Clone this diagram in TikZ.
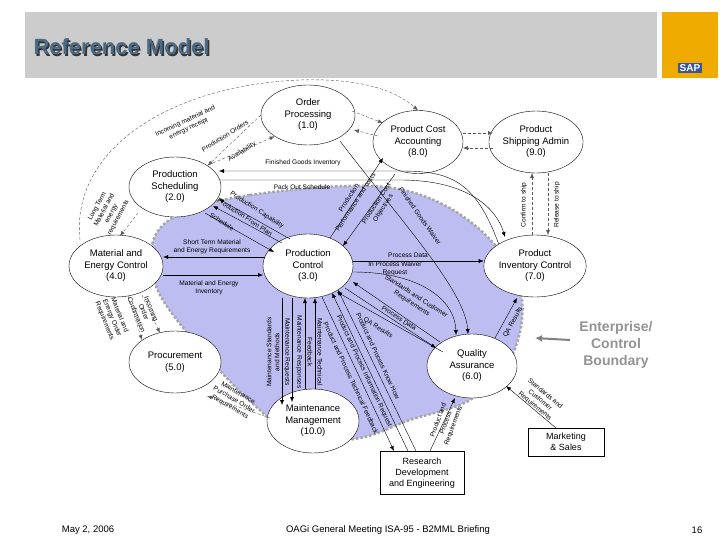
\documentclass[tikz,border=0pt]{standalone}
\usepackage{fontspec}
\setmainfont{Liberation Sans}
\usetikzlibrary{shapes.geometric,arrows.meta}
\definecolor{bnd}{HTML}{BDBDF2}
\definecolor{hdr}{HTML}{CCCCCC}
\definecolor{sapo}{HTML}{F0AB00}
\definecolor{ttl}{HTML}{4A6A85}
\begin{document}
\begin{tikzpicture}[x=1pt,y=-1pt,
  ell/.style={ellipse,draw,fill=white,inner sep=0,align=center,font=\fontsize{9.5}{11.5}\selectfont},
  box/.style={rectangle,draw,fill=white,inner sep=1pt,align=center,font=\fontsize{9}{11}\selectfont},
  lab/.style={font=\fontsize{6.6}{8}\selectfont,align=center,inner sep=0},
  arr/.style={-{Latex[length=5pt,width=4pt]},thin},
  darr/.style={-{Latex[length=5pt,width=4pt]},thin,densely dashed,gray!70!black}]
\useasboundingbox (0,0) rectangle (728,546);
% header
\fill[hdr] (25,12) rectangle (657,78);
\fill[sapo] (662,12) rectangle (718,78);
\fill[white] (662,78) rectangle (718,80);
\node[font=\fontsize{10}{10}\bfseries\selectfont,text=white,fill=ttl!80!blue,inner sep=1.5pt] (sap) at (690,68) {SAP};
\node[anchor=west,font=\fontsize{22}{24}\bfseries\selectfont,text=black!80] (tts) at (31.5,48.5) {Reference Model};
\node[anchor=west,font=\fontsize{22}{24}\bfseries\selectfont,text=ttl] (tt) at (30,47) {Reference Model};
% boundary
\draw[fill=bnd,draw=gray!70,line width=2.5pt,dash pattern=on 2.5pt off 2pt] plot[smooth cycle,tension=0.6] coordinates{
 (178,215) (250,195) (370,186) (440,203) (495,245) (522,300) (510,360) (470,400) (410,420) (360,438) (300,440) (262,412) (215,365) (160,295) (152,245)};
% nodes
\node[ell,minimum width=94,minimum height=60] (op) at (308,115) {Order\\Processing\\(1.0)};
\node[ell,minimum width=90,minimum height=63] (pca) at (418,142) {Product Cost\\Accounting\\(8.0)};
\node[ell,minimum width=86,minimum height=62] (psa) at (536,142) {Product\\Shipping Admin\\(9.0)};
\node[ell,minimum width=92,minimum height=60] (ps) at (175,187) {Production\\Scheduling\\(2.0)};
\node[ell,minimum width=94,minimum height=62] (mec) at (116,266) {Material and\\Energy Control\\(4.0)};
\node[ell,minimum width=90,minimum height=64] (pc) at (308,266) {Production\\Control\\(3.0)};
\node[ell,minimum width=92,minimum height=62] (pic) at (535,266) {Product\\Inventory Control\\(7.0)};
\node[ell,minimum width=92,minimum height=62] (pr) at (175,362) {Procurement\\(5.0)};
\node[ell,minimum width=90,minimum height=64] (qa) at (472,366) {Quality\\Assurance\\(6.0)};
\node[ell,minimum width=92,minimum height=64] (mm) at (313,421) {Maintenance\\Management\\(10.0)};
\node[box,minimum width=84,minimum height=43] (rd) at (422,473) {Research\\Development\\and Engineering};
\node[box,minimum width=76,minimum height=28] (ms) at (566,442) {Marketing\\\& Sales};
% dashed connectors
\coordinate (ia) at (80,240);
\draw[darr] (ia) .. controls (70,150) and (170,85) .. (300,80) .. controls (360,78) and (395,90) .. (pca.north);
\draw[darr] (op.west) -- (ps.north east);
\coordinate (av) at (213,163);
\draw[darr] (av) -- (op.south west);
\draw[darr] (352,111) -- (383,123);
\draw[darr] (378,136) -- (354,130);
\draw[darr] (463,133) -- (493,133);
\draw[darr] (493,148) -- (463,148);
\draw[darr] (532,235) -- (532,173);
\draw[darr] (548,173) -- (548,235);
\draw[darr] (138,213) -- (120,236);
\draw[darr] (128,296) -- (142,340);
\draw[darr] (142,295) -- (160,333);
\draw[darr] (270,418) -- (207,396);
% solid connectors
\draw[arr] (pic.north west) .. controls (475,180) and (450,171) .. (400,171) -- (219,171);
\draw[arr] (220,180) -- (400,180) .. controls (470,180) and (497,210) .. (505,237);
\draw[arr] (290,239) -- (219,199);
\draw[arr] (282,243) -- (213,206);
\draw[arr] (205,213) -- (274,252);
\draw[arr] (265,257) -- (mec.east |- 0,257);
\draw[arr] (mec.east |- 0,275) -- (263,275);
\draw[arr] (330,238) -- (383,158);
\draw[arr] (395,174) -- (343,246);
\draw[arr] (340,141) .. controls (400,220) and (465,290) .. (468,334);
\draw[arr] (353,261) -- (pic.west |- 0,261);
\draw[arr] (353,272) .. controls (420,272) and (455,300) .. (456,335);
\draw[arr] (440,342) -- (353,282);
\draw[arr] (345,288) -- (436,348);
\draw[arr] (443,352) -- (337,292);
\draw[arr] (495,338) -- (517,298);
\draw[arr] (282,298) -- (282,405);
\draw[arr] (292,298) -- (292,402);
\draw[arr] (305,389) -- (305,298);
\draw[arr] (315,389) -- (315,298);
\draw[arr] (322,297) -- (394,451);
\draw[arr] (408,451) -- (332,293);
\draw[arr] (416,451) -- (338,290);
\draw[arr] (430,451) -- (455,398);
\draw[arr] (556,428) -- (506,386);
% boundary label
\draw[-{Latex[length=7pt,width=7pt]},gray,line width=2pt] (570,340) -- (535,338);
\node[font=\fontsize{14}{17}\bfseries\selectfont,text=gray!85,align=center] (eb) at (616,345) {Enterprise/\\Control\\Boundary};
% labels
\node[lab,rotate=25] (l1) at (187,125) {Incoming material and\\energy receipt};
\node[lab,rotate=32] (l2) at (225,136) {Production Orders};
\node[lab,rotate=32] (l3) at (242,152) {Availability};
\node[lab] (l4) at (303,163) {Finished Goods Inventory};
\node[lab] (l5) at (302,187) {Pack Out Schedule};
\node[lab,rotate=-33] (l6) at (257,210) {Production Capability};
\node[lab,rotate=-33] (l7) at (245,217) {Production From Plan};
\node[lab,rotate=-33] (l8) at (222,222) {Schedule};
\node[lab] (l9) at (212,247) {Short Term Material\\and Energy Requirements};
\node[lab] (l10) at (209,288) {Material and Energy\\Inventory};
\node[lab,rotate=57] (l11) at (352,200) {Production\\Performance and costs};
\node[lab,rotate=57] (l12) at (380,206) {Production Cost\\Objectives};
\node[lab,rotate=-55] (l13) at (420,216) {Finished Goods Waiver};
\node[lab] (l14) at (408,255) {Process Data};
\node[lab] (l15) at (395,269) {In Process Waiver\\Request};
\node[lab,rotate=-33] (l16) at (414,300) {Standards and Customer\\Requirements};
\node[lab,rotate=-33] (l17) at (399,318) {Process Data};
\node[lab,rotate=-33] (l18) at (378,328) {QA Results};
\node[lab,rotate=62] (l19) at (513,322) {QA Results};
\node[lab,rotate=90] (l20) at (524,205) {Confirm to ship};
\node[lab,rotate=90] (l21) at (557,205) {Release to ship};
\node[lab,rotate=62] (l22) at (108,212) {Long Term\\Material and\\energy\\requirements};
\node[lab,rotate=-68] (l23) at (112,318) {Material and\\Energy Order\\Requirements};
\node[lab,rotate=-68] (l24) at (144,312) {Incoming\\Order\\Confirmation};
\node[lab,rotate=-30] (l25) at (234,400) {Maintenance\\Purchase Order\\Requirements};
\node[lab,rotate=90] (l26) at (273,352) {Maintenance Standards\\and Methods};
\node[lab,rotate=-90] (l27) at (287,352) {Maintenance Requests};
\node[lab,rotate=-90] (l28) at (299,352) {Maintenance Responses};
\node[lab,rotate=-90] (l29) at (310,352) {Feedback};
\node[lab,rotate=-90] (l30) at (320,352) {Maintenance Technical};
\node[lab,rotate=-65] (l31) at (351,378) {Product and Process Technical Feedback};
\node[lab,rotate=-65] (l32) at (364,371) {Product and Process Information Request};
\node[lab,rotate=-65] (l33) at (378,356) {Product and Process Know How};
\node[lab,rotate=70] (l34) at (446,423) {Product and\\Process\\Requirements};
\node[lab,rotate=-40] (l35) at (540,400) {Standards and\\Customer\\Requirements};
% footer
\node[font=\fontsize{9.5}{11}\selectfont] (f1) at (88,530) {May 2, 2006};
\node[font=\fontsize{9.5}{11}\selectfont] (f2) at (388,530) {OAGi General Meeting ISA-95 - B2MML Briefing};
\node[font=\fontsize{9.5}{11}\selectfont] (f3) at (697,530) {16};
\end{tikzpicture}
\end{document}
